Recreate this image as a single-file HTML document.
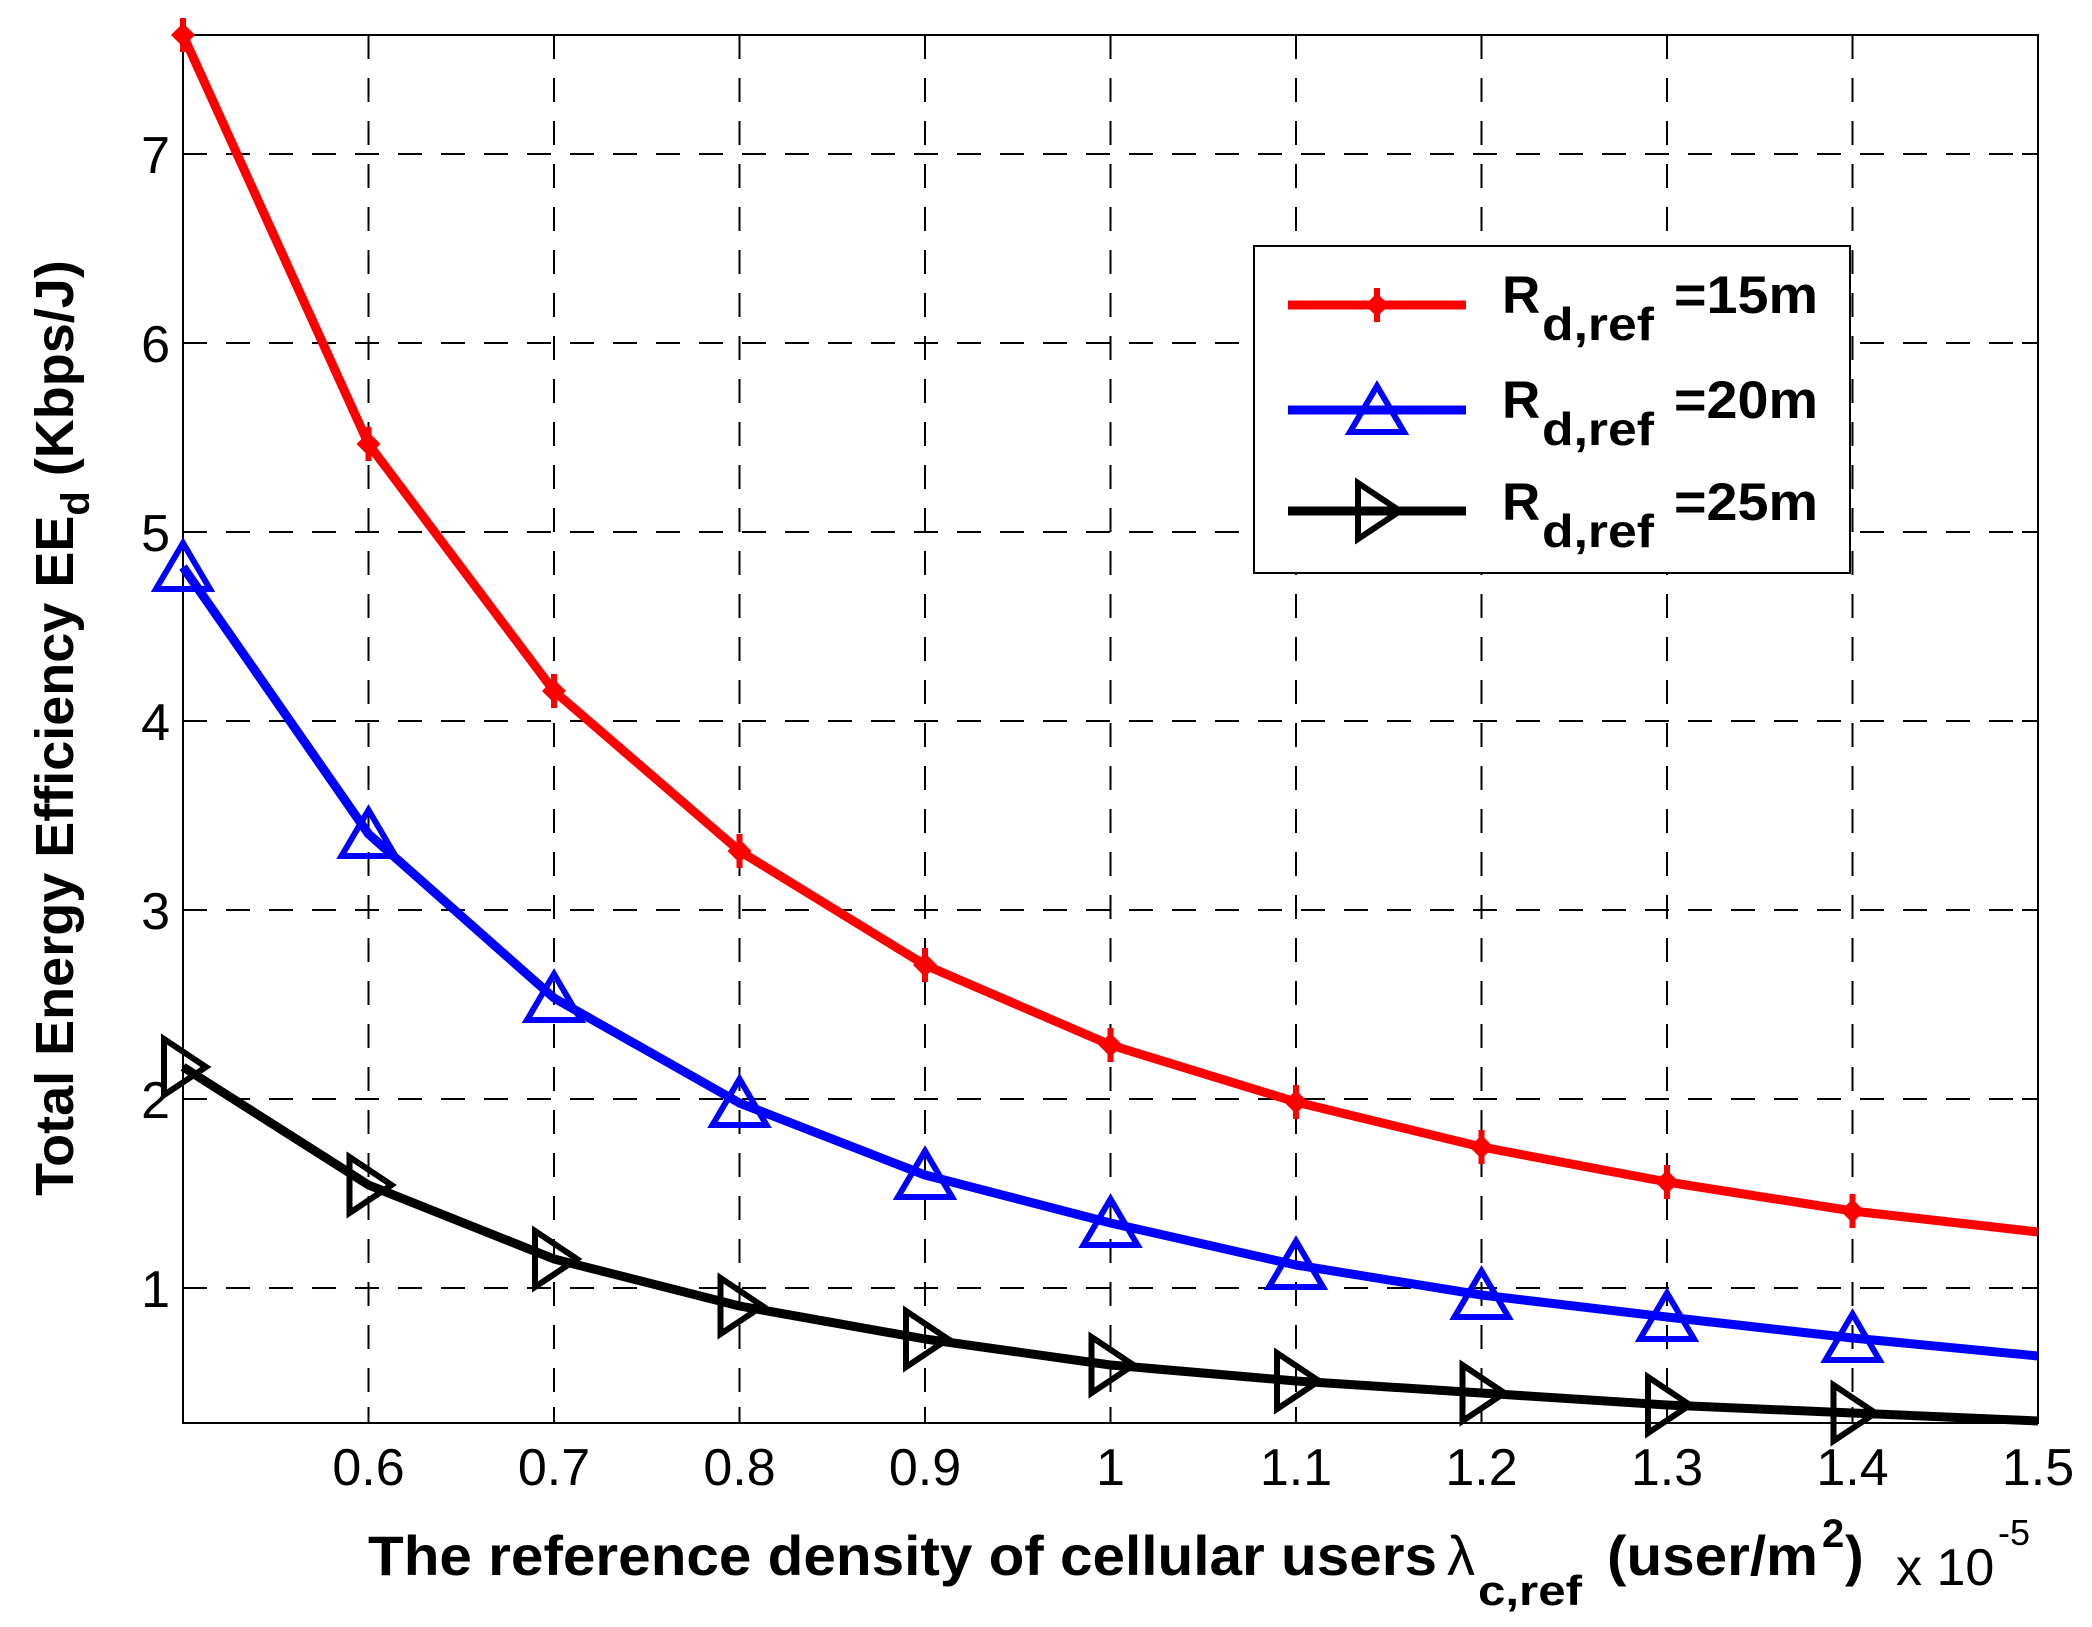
<!DOCTYPE html>
<html><head><meta charset="utf-8"><style>html,body{margin:0;padding:0;background:#fff}svg{display:block}</style></head>
<body>
<svg width="2092" height="1627" viewBox="0 0 2092 1627" xmlns="http://www.w3.org/2000/svg" font-family="Liberation Sans, Arial, sans-serif">
<rect width="2092" height="1627" fill="#fff"/>
<g stroke="#000" stroke-width="2" stroke-dasharray="24,19" fill="none">
<path d="M368.5 35V1423M554 35V1423M739.5 35V1423M925 35V1423M1110.5 35V1423M1296 35V1423M1481.5 35V1423M1667 35V1423M1852.5 35V1423"/>
<path d="M183 1288H2038M183 1099H2038M183 910H2038M183 721H2038M183 532H2038M183 343H2038M183 154H2038"/>
</g>
<g stroke="#000" stroke-width="2" fill="none">
<rect x="183" y="35" width="1855" height="1388"/>
<path d="M368.5 1423v-16M554 1423v-16M739.5 1423v-16M925 1423v-16M1110.5 1423v-16M1296 1423v-16M1481.5 1423v-16M1667 1423v-16M1852.5 1423v-16"/>
<path d="M368.5 35v16M554 35v16M739.5 35v16M925 35v16M1110.5 35v16M1296 35v16M1481.5 35v16M1667 35v16M1852.5 35v16"/>
<path d="M183 1288h16M183 1099h16M183 910h16M183 721h16M183 532h16M183 343h16M183 154h16"/>
<path d="M2038 1288h-16M2038 1099h-16M2038 910h-16M2038 721h-16M2038 532h-16M2038 343h-16M2038 154h-16"/>
</g>
<g font-size="52" text-anchor="end" fill="#000">
<text x="170" y="1307">1</text><text x="170" y="1118">2</text><text x="170" y="929">3</text><text x="170" y="740">4</text><text x="170" y="551">5</text><text x="170" y="362">6</text><text x="170" y="173">7</text>
</g>
<g font-size="52" text-anchor="middle" fill="#000">
<text x="368.5" y="1485">0.6</text><text x="554" y="1485">0.7</text><text x="739.5" y="1485">0.8</text><text x="925" y="1485">0.9</text><text x="1110.5" y="1485">1</text><text x="1296" y="1485">1.1</text><text x="1481.5" y="1485">1.2</text><text x="1667" y="1485">1.3</text><text x="1852.5" y="1485">1.4</text><text x="2038" y="1485">1.5</text>
</g>
<polyline fill="none" stroke="#000" stroke-width="9" stroke-linejoin="round" points="183,1067 368.5,1185 554,1259 739.5,1306 925,1339 1110.5,1365 1296,1381 1481.5,1393 1667,1405 1852.5,1413 2038,1421"/>
<polyline fill="none" stroke="#0000ff" stroke-width="9" stroke-linejoin="round" points="183,567 368.5,834 554,998 739.5,1103 925,1175 1110.5,1223 1296,1265 1481.5,1295 1667,1317 1852.5,1338 2038,1356"/>
<polyline fill="none" stroke="#ff0000" stroke-width="9" stroke-linejoin="round" points="183,35 368.5,444 554,691 739.5,851 925,965 1110.5,1045 1296,1102 1481.5,1147 1667,1182 1852.5,1211 2038,1232"/>
<defs>
<g id="mr"><path d="M0 -12L12 0L0 12L-12 0Z" fill="#ff0000"/><rect x="-3" y="-17" width="6" height="34" fill="#ff0000"/></g>
<path id="mb" d="M0 -24L27 22L-27 22Z" fill="none" stroke="#0000ff" stroke-width="6"/>
<path id="mk" d="M-19 -28L-19 28L23 0Z" fill="none" stroke="#000" stroke-width="6"/>
</defs>
<g>
<use href="#mk" x="183" y="1067"/><use href="#mk" x="368.5" y="1185"/><use href="#mk" x="554" y="1259"/><use href="#mk" x="739.5" y="1306"/><use href="#mk" x="925" y="1339"/><use href="#mk" x="1110.5" y="1365"/><use href="#mk" x="1296" y="1381"/><use href="#mk" x="1481.5" y="1393"/><use href="#mk" x="1667" y="1405"/><use href="#mk" x="1852.5" y="1413"/>
<use href="#mb" x="183" y="567"/><use href="#mb" x="368.5" y="834"/><use href="#mb" x="554" y="998"/><use href="#mb" x="739.5" y="1103"/><use href="#mb" x="925" y="1175"/><use href="#mb" x="1110.5" y="1223"/><use href="#mb" x="1296" y="1265"/><use href="#mb" x="1481.5" y="1295"/><use href="#mb" x="1667" y="1317"/><use href="#mb" x="1852.5" y="1338"/>
<use href="#mr" x="183" y="35"/><use href="#mr" x="368.5" y="444"/><use href="#mr" x="554" y="691"/><use href="#mr" x="739.5" y="851"/><use href="#mr" x="925" y="965"/><use href="#mr" x="1110.5" y="1045"/><use href="#mr" x="1296" y="1102"/><use href="#mr" x="1481.5" y="1147"/><use href="#mr" x="1667" y="1182"/><use href="#mr" x="1852.5" y="1211"/>
</g>
<rect x="1254" y="246" width="596" height="327" fill="#fff" stroke="#000" stroke-width="2"/>
<path d="M1288 305H1466" stroke="#ff0000" stroke-width="9"/><use href="#mr" x="1377" y="305"/>
<path d="M1288 410H1466" stroke="#0000ff" stroke-width="9"/><use href="#mb" x="1377" y="410"/>
<path d="M1288 511H1466" stroke="#000" stroke-width="9"/><use href="#mk" x="1377" y="511"/>
<g font-weight="bold" fill="#000">
<text x="1502" y="313" font-size="53">R</text><text x="1542" y="340" font-size="46" textLength="112" lengthAdjust="spacingAndGlyphs">d,ref</text><text x="1674" y="313" font-size="53" textLength="144" lengthAdjust="spacingAndGlyphs">=15m</text>
<text x="1502" y="418" font-size="53">R</text><text x="1542" y="445" font-size="46" textLength="112" lengthAdjust="spacingAndGlyphs">d,ref</text><text x="1674" y="418" font-size="53" textLength="144" lengthAdjust="spacingAndGlyphs">=20m</text>
<text x="1502" y="520" font-size="53">R</text><text x="1542" y="547" font-size="46" textLength="112" lengthAdjust="spacingAndGlyphs">d,ref</text><text x="1674" y="520" font-size="53" textLength="144" lengthAdjust="spacingAndGlyphs">=25m</text>
</g>
<g fill="#000" font-weight="bold">
<text x="368" y="1575" font-size="56" textLength="1069" lengthAdjust="spacingAndGlyphs">The reference density of cellular users</text>
<text x="1447" y="1575" font-size="56" font-weight="normal">λ</text>
<text x="1478" y="1605" font-size="42" textLength="104" lengthAdjust="spacingAndGlyphs">c,ref</text>
<text x="1607" y="1575" font-size="56" textLength="211" lengthAdjust="spacingAndGlyphs">(user/m</text>
<text x="1822" y="1547" font-size="40">2</text>
<text x="1845" y="1575" font-size="56">)</text>
</g>
<text x="1896" y="1585" font-size="52" fill="#000">x 10</text>
<text x="1998" y="1545" font-size="36" fill="#000">-5</text>
<text transform="translate(73,728) rotate(-90)" text-anchor="middle" font-size="54" font-weight="bold" fill="#000">Total Energy Efficiency EE<tspan font-size="40" dy="16">d</tspan><tspan dy="-16"> (Kbps/J)</tspan></text>
</svg>
</body></html>
